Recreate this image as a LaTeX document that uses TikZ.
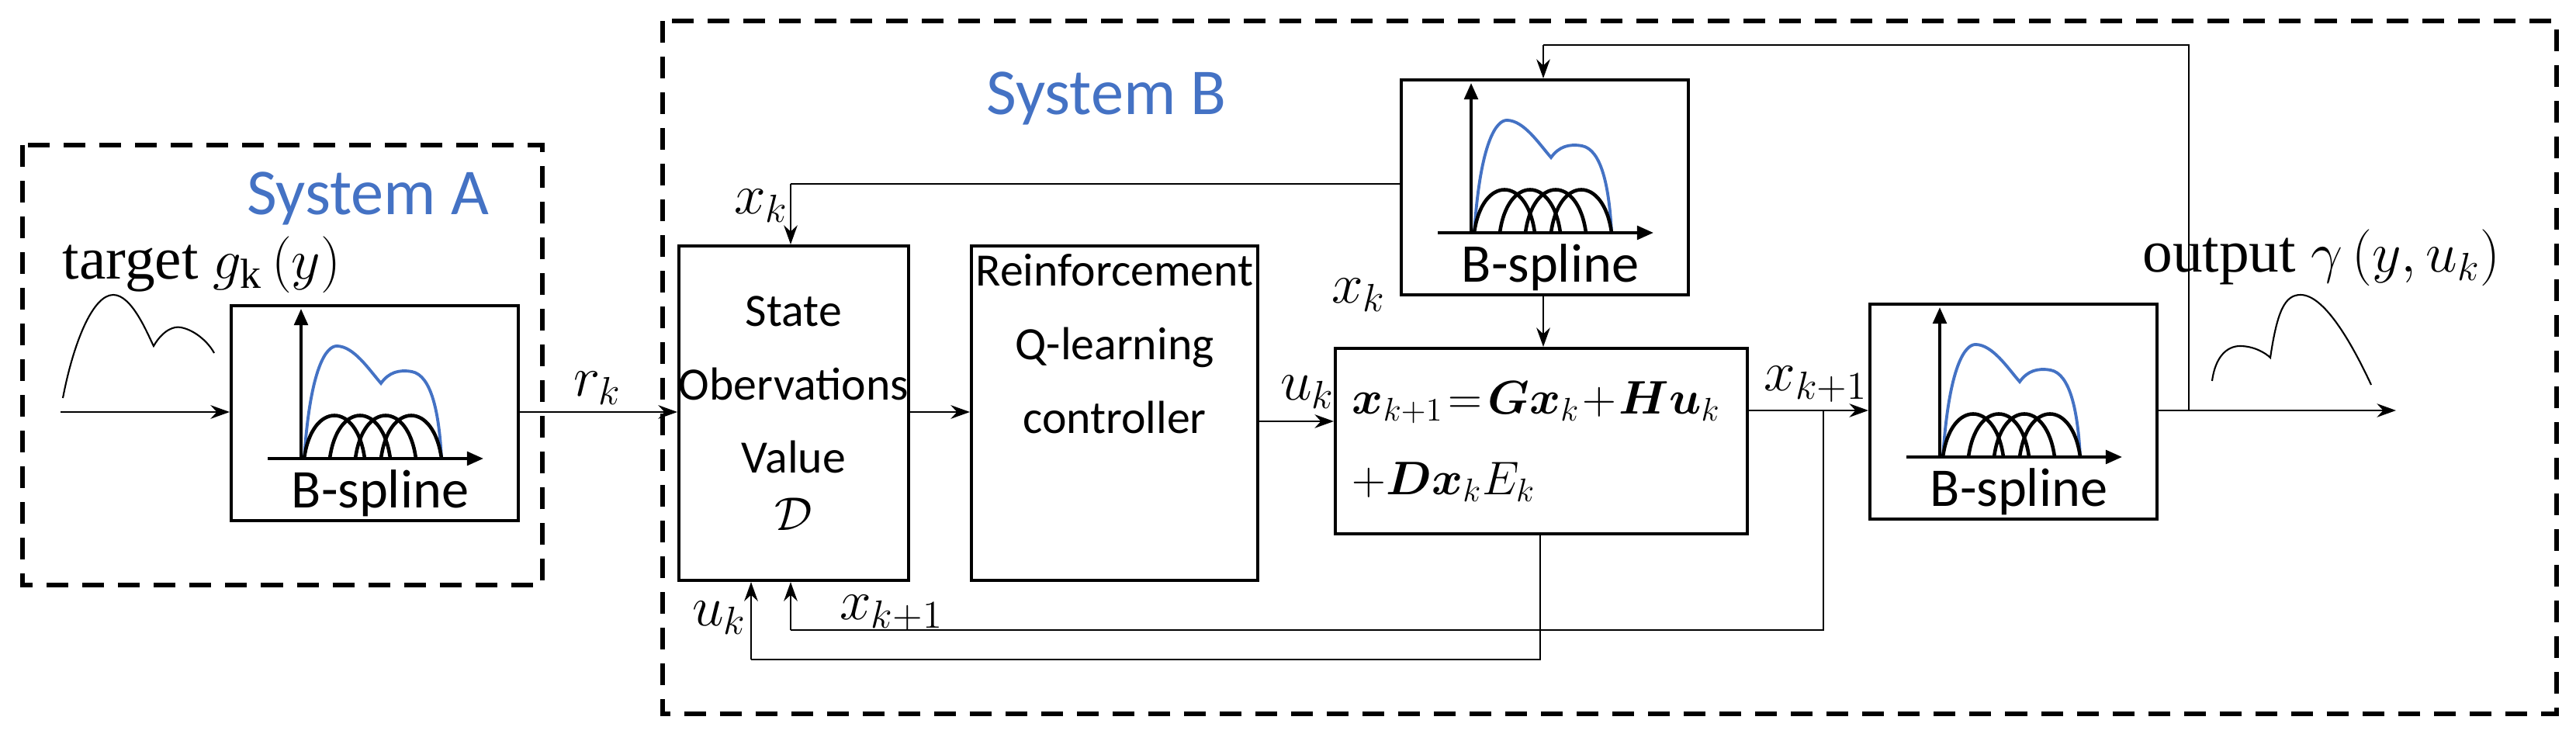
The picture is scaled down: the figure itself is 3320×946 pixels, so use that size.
\documentclass[tikz,border=0pt]{standalone}
\usepackage{amsmath,amssymb}
\usepackage{fontspec}
\setmainfont{Liberation Serif}
\newfontfamily\calfont{Carlito}
\usetikzlibrary{arrows.meta}
\definecolor{sysblue}{RGB}{68,114,196}
\tikzset{
  sysbox/.style={draw,line width=1.7pt,dash pattern=on 0.28cm off 0.18cm},
  blk/.style={draw,line width=1.1pt,inner sep=0pt,align=center},
  bsbox/.style={blk,minimum width=3.7cm,minimum height=2.77cm},
  conn/.style={line width=0.6pt,-{Stealth[length=7pt,width=5pt]}},
  wire/.style={line width=0.6pt},
  lab/.style={font=\fontsize{22}{24}\selectfont},
  eqn/.style={font=\fontsize{18}{20}\selectfont},
  blktext/.style={font=\calfont\fontsize{17}{27}\selectfont},
  sysname/.style={font=\calfont\fontsize{24}{28}\selectfont,text=sysblue},
  pics/bspline/.style={code={
    \draw[line width=1.1pt,-{Triangle[length=6pt,width=5pt]}] (92,199) -- (92,6);
    \draw[line width=1.1pt,-{Triangle[length=6pt,width=5pt]}] (49,199) -- (327,199);
    \draw[sysblue,line width=1.1pt] (96,199) .. controls (104,80) and (125,54) .. (138,54)
       .. controls (160,54) and (180,85) .. (195,102)
       .. controls (205,88) and (218,84) .. (235,87)
       .. controls (260,92) and (270,140) .. (273,199);
    \foreach \a in {96,129,162,195}{
      \draw[line width=1.3pt] (\a,199) .. controls (\a+10,125) and (\a+68,125) .. (\a+78,199);
    }
    \node[font=\calfont\fontsize{20}{22}\selectfont,inner sep=0pt] at (194,244) {B-spline};
  }}
}
\begin{document}
\begin{tikzpicture}[x=0.01cm,y=-0.01cm]
\useasboundingbox (0,0) rectangle (3320,946);
% dashed system frames
\draw[sysbox] (29,187) rectangle (699,754);
\draw[sysbox] (854,27) rectangle (3295,920);
\node[sysname] (sysA) at (474,256) {System A};
\node[sysname] (sysB) at (1426,127) {System B};
% blocks
\node[bsbox,anchor=north west] (bsA) at (296,392) {};
\pic at (bsA.north west) {bspline};
\node[bsbox,anchor=north west] (bsT) at (1804,101) {};
\pic at (bsT.north west) {bspline};
\node[bsbox,anchor=north west] (bsO) at (2408,390) {};
\pic at (bsO.north west) {bspline};
\node[blk,blktext,anchor=north west,minimum width=2.95cm,minimum height=4.31cm] (st) at (873,315)
  {State\\Obervations\\Value\\[-6pt]$\mathcal{D}$};
\node[blk,blktext,anchor=north west,minimum width=3.69cm,minimum height=4.31cm] (rl) at (1250,315)
  {Reinforcement\\Q-learning\\controller\\[24pt]};
\node[blk,anchor=north west,minimum width=5.31cm,minimum height=2.39cm] (dyn) at (1719,447) {};
\node[eqn,anchor=west,inner sep=0pt] (eq1) at (1742,519)
  {$\boldsymbol{x}_{k+1}\!=\!\boldsymbol{G}\boldsymbol{x}_k\!+\!\boldsymbol{H}\boldsymbol{u}_k$};
\node[eqn,anchor=west,inner sep=0pt] (eq2) at (1742,621)
  {$+\boldsymbol{D}\boldsymbol{x}_k E_k$};
% texts
\node[lab] (tgt) at (260,341) {target $g_{\mathrm{k}}\left(y\right)$};
\node[lab] (outt) at (2992,332) {output $\gamma\left(y,u_k\right)$};
\node[lab] (lr) at (770,500) {$r_k$};
\node[lab] (lxa) at (981,265) {$x_k$};
\node[lab] (lub) at (927,796) {$u_k$};
\node[lab] (lxb) at (1149,790) {$x_{k+1}$};
\node[lab] (luk) at (1685,505) {$u_k$};
\node[lab] (lxc) at (1751,380) {$x_k$};
\node[lab] (lxd) at (2340,495) {$x_{k+1}$};
% sketched curves
\draw[line width=0.6pt] (81,513) .. controls (95,440) and (120,380) .. (146,380)
   .. controls (170,380) and (190,430) .. (198,446)
   .. controls (210,425) and (225,420) .. (233,422)
   .. controls (250,425) and (268,440) .. (276,455);
\draw[line width=0.6pt] (2851,491) .. controls (2855,460) and (2870,446) .. (2887,446)
   .. controls (2905,446) and (2920,455) .. (2926,461)
   .. controls (2935,400) and (2945,380) .. (2965,380)
   .. controls (2995,380) and (3030,440) .. (3056,496);
% connectors
\coordinate (inA) at (78,531);
\draw[conn] (inA) -- (bsA.west |- inA);
\draw[conn] (bsA.east |- inA) -- (st.west |- inA);
\draw[conn] (st.east |- inA) -- (rl.west |- inA);
\draw[conn] (rl.east |- 0,543) -- (dyn.west |- 0,543);
\coordinate (xa) at (1019,237);
\draw[wire] (bsT.west |- xa) -- (xa);
\draw[conn] (xa) -- (st.north -| xa);
\draw[conn] (bsT.south -| 1989,0) -- (dyn.north -| 1989,0);
\coordinate (xj) at (2350,529);
\draw[conn] (dyn.east |- xj) -- (bsO.west |- xj);
\coordinate (oj) at (2821,529);
\coordinate (oe) at (3088,529);
\draw[conn] (bsO.east |- oj) -- (oe);
\coordinate (ot) at (2821,58);
\coordinate (ot2) at (1989,58);
\draw[wire] (oj) -- (ot) -- (ot2);
\draw[conn] (ot2) -- (bsT.north -| ot2);
\coordinate (xb1) at (2350,812);
\coordinate (xb2) at (1019,812);
\draw[wire] (xj) -- (xb1) -- (xb2);
\draw[conn] (xb2) -- (st.south -| xb2);
\coordinate (ub1) at (1985,850);
\coordinate (ub2) at (968,850);
\draw[wire] (dyn.south -| ub1) -- (ub1) -- (ub2);
\draw[conn] (ub2) -- (st.south -| ub2);
\end{tikzpicture}
\end{document}
